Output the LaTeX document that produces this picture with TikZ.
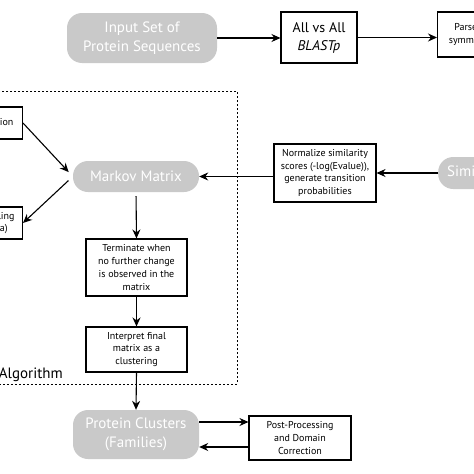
\documentclass[tikz,border=0pt]{standalone}
\usepackage{fontspec}
\setmainfont{PT Sans}
\usetikzlibrary{arrows.meta}
\begin{document}
\begin{tikzpicture}[x=1pt,y=-1pt,
  grey/.style={fill=black!21,text=white,rounded corners=15pt,align=center,inner sep=0pt,font=\fontsize{15}{19}\selectfont},
  box/.style={draw,line width=1.1pt,align=center,inner sep=0pt,font=\fontsize{10}{12.8}\selectfont},
  arr/.style={-{Stealth[length=9pt,width=8pt]},line width=1.1pt}]
  \useasboundingbox (0,0) rectangle (474,474);
  \fill[white] (0,0) rectangle (474,474);
  \clip (0,0) rectangle (474,474);
  \draw[line width=1pt,dash pattern=on 2pt off 2pt] (-20,91) rectangle (237,384);
  \node[grey,minimum width=150,minimum height=50] (input) at (142,38) {Input Set of\\Protein Sequences};
  \node[box,minimum width=76,minimum height=51,font=\fontsize{14}{18}\selectfont] (blast) at (319,37.5) {All vs All\\\textit{BLASTp}};
  \node[box,anchor=west,minimum width=90,minimum height=45] (parse) at (437,34.5) {Parse results,\\symmetrize hits};
  \node[grey,minimum width=126,minimum height=31] (markov) at (136,176.5) {Markov Matrix};
  \node[box,minimum width=102,minimum height=58] (norm) at (325,173) {Normalize similarity\\scores (-log(Evalue)),\\generate transition\\probabilities};
  \node[grey,anchor=west,minimum height=32,inner xsep=9pt] (simil) at (438,173) {Similarity Matrix};
  \node[box,anchor=east,minimum height=32,inner xsep=9pt] (expand) at (23,123) {Expansion};
  \node[box,anchor=east,minimum height=32,inner xsep=8pt] (inflate) at (23,223) {Inflation (rescaling\\by parameter a)};
  \node[box,minimum width=101,minimum height=57] (term) at (136.5,267.5) {Terminate when\\no further change\\is observed in the\\matrix};
  \node[box,minimum width=101,minimum height=45] (interp) at (136.5,349.5) {Interpret final\\matrix as a\\clustering};
  \node[anchor=base east,inner sep=0pt,font=\fontsize{15}{18}\selectfont] (mcl) at (63,378) {MCL Algorithm};
  \node[grey,minimum width=126,minimum height=49] (clusters) at (136,434.5) {Protein Clusters\\(Families)};
  \node[box,minimum width=102,minimum height=44] (post) at (300,438) {Post-Processing\\and Domain\\Correction};
  \draw[arr] (input.east) -- (input.east -| blast.west);
  \draw[arr] (blast.east) -- (blast.east -| parse.west);
  \draw[arr] (simil.west) -- (norm.east);
  \draw[arr] (markov.east -| norm.west) -- (markov.east);
  \draw[arr,shorten >=6pt] (expand.east) -- (markov.west);
  \draw[arr,shorten <=6pt] (markov.west) -- (inflate.east);
  \draw[arr,shorten <=4pt] (markov.south) -- (term.north);
  \draw[arr] (term.south) -- (interp.north);
  \draw[arr] (interp.south) -- (clusters.north);
  \coordinate (up) at ([yshift=12.5pt]clusters.east);
  \coordinate (down) at ([yshift=-12.5pt]clusters.east);
  \draw[arr] (up) -- (up -| post.west);
  \draw[arr] (down -| post.west) -- (down);
\end{tikzpicture}
\end{document}
